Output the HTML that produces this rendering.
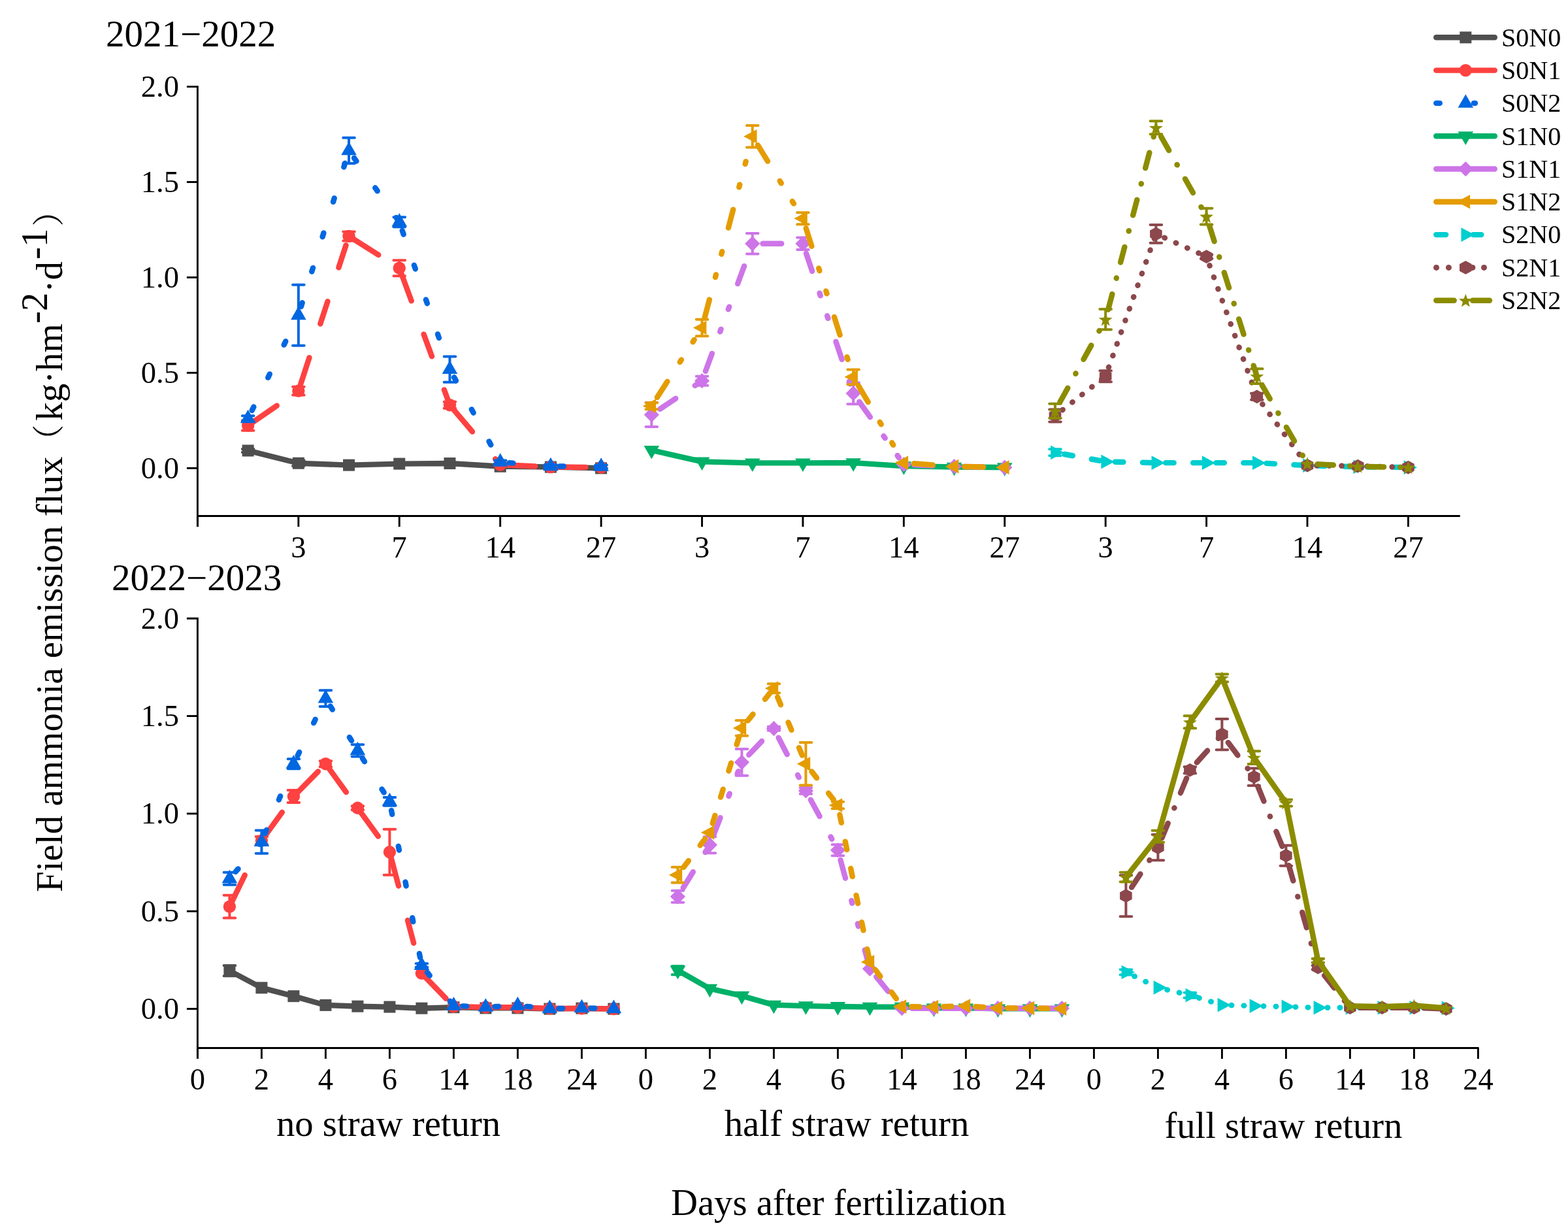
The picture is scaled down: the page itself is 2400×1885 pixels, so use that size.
<!DOCTYPE html>
<html><head><meta charset="utf-8"><title>Field ammonia emission flux</title>
<style>html,body{margin:0;padding:0;background:#fff;width:2400px;height:1885px;overflow:hidden}
svg{display:block}text{font-family:'Liberation Serif','Noto Serif CJK SC',serif;fill:#000}</style></head>
<body><svg width="2400" height="1885" viewBox="0 0 2400 1885">
<rect width="2400" height="1885" fill="#fff"/>
<text x="162" y="70.8" font-size="57">2021−2022</text>
<text x="171" y="902.7" font-size="57">2022−2023</text>
<path d="M285.9 132.6H302.4V806" stroke="#000" stroke-width="2.9" fill="none"/>
<path d="M301.1 789.5H2234.8" stroke="#000" stroke-width="2.9" fill="none"/>
<path d="M285.9 716.3H302.4" stroke="#000" stroke-width="2.9"/>
<path d="M285.9 570.38H302.4" stroke="#000" stroke-width="2.9"/>
<path d="M285.9 424.45H302.4" stroke="#000" stroke-width="2.9"/>
<path d="M285.9 278.52H302.4" stroke="#000" stroke-width="2.9"/>
<text x="273.9" y="731.6" text-anchor="end" font-size="46.5">0.0</text>
<text x="273.9" y="585.67" text-anchor="end" font-size="46.5">0.5</text>
<text x="273.9" y="439.75" text-anchor="end" font-size="46.5">1.0</text>
<text x="273.9" y="293.82" text-anchor="end" font-size="46.5">1.5</text>
<text x="273.9" y="147.9" text-anchor="end" font-size="46.5">2.0</text>
<path d="M302.4 789.5V806" stroke="#000" stroke-width="2.9"/>
<path d="M456.82 789.5V806" stroke="#000" stroke-width="2.9"/>
<text x="456.82" y="852.9" text-anchor="middle" font-size="46.5">3</text>
<path d="M611.24 789.5V806" stroke="#000" stroke-width="2.9"/>
<text x="611.24" y="852.9" text-anchor="middle" font-size="46.5">7</text>
<path d="M765.66 789.5V806" stroke="#000" stroke-width="2.9"/>
<text x="765.66" y="852.9" text-anchor="middle" font-size="46.5">14</text>
<path d="M920.08 789.5V806" stroke="#000" stroke-width="2.9"/>
<text x="920.08" y="852.9" text-anchor="middle" font-size="46.5">27</text>
<path d="M1074.5 789.5V806" stroke="#000" stroke-width="2.9"/>
<text x="1074.5" y="852.9" text-anchor="middle" font-size="46.5">3</text>
<path d="M1228.92 789.5V806" stroke="#000" stroke-width="2.9"/>
<text x="1228.92" y="852.9" text-anchor="middle" font-size="46.5">7</text>
<path d="M1383.34 789.5V806" stroke="#000" stroke-width="2.9"/>
<text x="1383.34" y="852.9" text-anchor="middle" font-size="46.5">14</text>
<path d="M1537.76 789.5V806" stroke="#000" stroke-width="2.9"/>
<text x="1537.76" y="852.9" text-anchor="middle" font-size="46.5">27</text>
<path d="M1692.18 789.5V806" stroke="#000" stroke-width="2.9"/>
<text x="1692.18" y="852.9" text-anchor="middle" font-size="46.5">3</text>
<path d="M1846.6 789.5V806" stroke="#000" stroke-width="2.9"/>
<text x="1846.6" y="852.9" text-anchor="middle" font-size="46.5">7</text>
<path d="M2001.02 789.5V806" stroke="#000" stroke-width="2.9"/>
<text x="2001.02" y="852.9" text-anchor="middle" font-size="46.5">14</text>
<path d="M2155.44 789.5V806" stroke="#000" stroke-width="2.9"/>
<text x="2155.44" y="852.9" text-anchor="middle" font-size="46.5">27</text>
<path d="M285.9 946.2H302.4V1620" stroke="#000" stroke-width="2.9" fill="none"/>
<path d="M301.1 1603.5H2263.6" stroke="#000" stroke-width="2.9" fill="none"/>
<path d="M285.9 1543.6H302.4" stroke="#000" stroke-width="2.9"/>
<path d="M285.9 1394.25H302.4" stroke="#000" stroke-width="2.9"/>
<path d="M285.9 1244.9H302.4" stroke="#000" stroke-width="2.9"/>
<path d="M285.9 1095.55H302.4" stroke="#000" stroke-width="2.9"/>
<text x="273.9" y="1558.9" text-anchor="end" font-size="46.5">0.0</text>
<text x="273.9" y="1409.55" text-anchor="end" font-size="46.5">0.5</text>
<text x="273.9" y="1260.2" text-anchor="end" font-size="46.5">1.0</text>
<text x="273.9" y="1110.85" text-anchor="end" font-size="46.5">1.5</text>
<text x="273.9" y="961.5" text-anchor="end" font-size="46.5">2.0</text>
<path d="M302.4 1603.5V1620" stroke="#000" stroke-width="2.9"/>
<text x="302.4" y="1666.8" text-anchor="middle" font-size="46.5">0</text>
<path d="M400.4 1603.5V1620" stroke="#000" stroke-width="2.9"/>
<text x="400.4" y="1666.8" text-anchor="middle" font-size="46.5">2</text>
<path d="M498.4 1603.5V1620" stroke="#000" stroke-width="2.9"/>
<text x="498.4" y="1666.8" text-anchor="middle" font-size="46.5">4</text>
<path d="M596.4 1603.5V1620" stroke="#000" stroke-width="2.9"/>
<text x="596.4" y="1666.8" text-anchor="middle" font-size="46.5">6</text>
<path d="M694.4 1603.5V1620" stroke="#000" stroke-width="2.9"/>
<text x="694.4" y="1666.8" text-anchor="middle" font-size="46.5">14</text>
<path d="M792.4 1603.5V1620" stroke="#000" stroke-width="2.9"/>
<text x="792.4" y="1666.8" text-anchor="middle" font-size="46.5">18</text>
<path d="M890.4 1603.5V1620" stroke="#000" stroke-width="2.9"/>
<text x="890.4" y="1666.8" text-anchor="middle" font-size="46.5">24</text>
<path d="M988.4 1603.5V1620" stroke="#000" stroke-width="2.9"/>
<text x="988.4" y="1666.8" text-anchor="middle" font-size="46.5">0</text>
<path d="M1086.4 1603.5V1620" stroke="#000" stroke-width="2.9"/>
<text x="1086.4" y="1666.8" text-anchor="middle" font-size="46.5">2</text>
<path d="M1184.4 1603.5V1620" stroke="#000" stroke-width="2.9"/>
<text x="1184.4" y="1666.8" text-anchor="middle" font-size="46.5">4</text>
<path d="M1282.4 1603.5V1620" stroke="#000" stroke-width="2.9"/>
<text x="1282.4" y="1666.8" text-anchor="middle" font-size="46.5">6</text>
<path d="M1380.4 1603.5V1620" stroke="#000" stroke-width="2.9"/>
<text x="1380.4" y="1666.8" text-anchor="middle" font-size="46.5">14</text>
<path d="M1478.4 1603.5V1620" stroke="#000" stroke-width="2.9"/>
<text x="1478.4" y="1666.8" text-anchor="middle" font-size="46.5">18</text>
<path d="M1576.4 1603.5V1620" stroke="#000" stroke-width="2.9"/>
<text x="1576.4" y="1666.8" text-anchor="middle" font-size="46.5">24</text>
<path d="M1674.4 1603.5V1620" stroke="#000" stroke-width="2.9"/>
<text x="1674.4" y="1666.8" text-anchor="middle" font-size="46.5">0</text>
<path d="M1772.4 1603.5V1620" stroke="#000" stroke-width="2.9"/>
<text x="1772.4" y="1666.8" text-anchor="middle" font-size="46.5">2</text>
<path d="M1870.4 1603.5V1620" stroke="#000" stroke-width="2.9"/>
<text x="1870.4" y="1666.8" text-anchor="middle" font-size="46.5">4</text>
<path d="M1968.4 1603.5V1620" stroke="#000" stroke-width="2.9"/>
<text x="1968.4" y="1666.8" text-anchor="middle" font-size="46.5">6</text>
<path d="M2066.4 1603.5V1620" stroke="#000" stroke-width="2.9"/>
<text x="2066.4" y="1666.8" text-anchor="middle" font-size="46.5">14</text>
<path d="M2164.4 1603.5V1620" stroke="#000" stroke-width="2.9"/>
<text x="2164.4" y="1666.8" text-anchor="middle" font-size="46.5">18</text>
<path d="M2262.4 1603.5V1620" stroke="#000" stroke-width="2.9"/>
<text x="2262.4" y="1666.8" text-anchor="middle" font-size="46.5">24</text>
<polyline points="379.61,689.45 456.82,708.71 534.03,711.63 611.24,709.59 688.45,709 765.66,713.67 842.87,714.55 920.08,716.3" fill="none" stroke="#4F4F4F" stroke-width="8.4" stroke-linejoin="round" stroke-linecap="round"/>
<path d="M379.61 686.95V691.95M370.81 686.95h17.6M370.81 691.95h17.6" stroke="#4F4F4F" stroke-width="4" stroke-linecap="round" fill="none"/>
<path d="M456.82 704.31V713.11M448.02 704.31h17.6M448.02 713.11h17.6" stroke="#4F4F4F" stroke-width="4" stroke-linecap="round" fill="none"/>
<rect x="370.61" y="680.45" width="18" height="18" fill="#4F4F4F"/>
<rect x="447.82" y="699.71" width="18" height="18" fill="#4F4F4F"/>
<rect x="525.03" y="702.63" width="18" height="18" fill="#4F4F4F"/>
<rect x="602.24" y="700.59" width="18" height="18" fill="#4F4F4F"/>
<rect x="679.45" y="700" width="18" height="18" fill="#4F4F4F"/>
<rect x="756.66" y="704.67" width="18" height="18" fill="#4F4F4F"/>
<rect x="833.87" y="705.55" width="18" height="18" fill="#4F4F4F"/>
<rect x="911.08" y="707.3" width="18" height="18" fill="#4F4F4F"/>
<line x1="379.61" y1="650.93" x2="456.82" y2="598.1" stroke="#FE4141" stroke-width="8.4" stroke-linecap="round" stroke-dasharray="53.5 54.5 36 54.5 36 54.5 36 54.5 36 54.5" stroke-dashoffset="0"/>
<line x1="456.82" y1="598.1" x2="534.03" y2="361.41" stroke="#FE4141" stroke-width="8.4" stroke-linecap="round" stroke-dasharray="53.5 54.5 36 54.5 36 54.5 36 54.5 36 54.5" stroke-dashoffset="0"/>
<line x1="534.03" y1="361.41" x2="611.24" y2="410.15" stroke="#FE4141" stroke-width="8.4" stroke-linecap="round" stroke-dasharray="53.5 54.5 36 54.5 36 54.5 36 54.5 36 54.5" stroke-dashoffset="0"/>
<line x1="611.24" y1="410.15" x2="688.45" y2="619.7" stroke="#FE4141" stroke-width="8.4" stroke-linecap="round" stroke-dasharray="53.5 54.5 36 54.5 36 54.5 36 54.5 36 54.5" stroke-dashoffset="0"/>
<line x1="688.45" y1="619.7" x2="765.66" y2="711.05" stroke="#FE4141" stroke-width="8.4" stroke-linecap="round" stroke-dasharray="53.5 54.5 36 54.5 36 54.5 36 54.5 36 54.5" stroke-dashoffset="0"/>
<line x1="765.66" y1="711.05" x2="842.87" y2="714.55" stroke="#FE4141" stroke-width="8.4" stroke-linecap="round" stroke-dasharray="53.5 54.5 36 54.5 36 54.5 36 54.5 36 54.5" stroke-dashoffset="0"/>
<line x1="842.87" y1="714.55" x2="920.08" y2="715.13" stroke="#FE4141" stroke-width="8.4" stroke-linecap="round" stroke-dasharray="53.5 54.5 36 54.5 36 54.5 36 54.5 36 54.5" stroke-dashoffset="0"/>
<path d="M379.61 643.23V658.63M370.81 643.23h17.6M370.81 658.63h17.6" stroke="#FE4141" stroke-width="4" stroke-linecap="round" fill="none"/>
<path d="M456.82 591.8V604.4M448.02 591.8h17.6M448.02 604.4h17.6" stroke="#FE4141" stroke-width="4" stroke-linecap="round" fill="none"/>
<path d="M534.03 354.41V368.41M525.23 354.41h17.6M525.23 368.41h17.6" stroke="#FE4141" stroke-width="4" stroke-linecap="round" fill="none"/>
<path d="M611.24 398.15V422.15M602.44 398.15h17.6M602.44 422.15h17.6" stroke="#FE4141" stroke-width="4" stroke-linecap="round" fill="none"/>
<path d="M688.45 614.7V624.7M679.65 614.7h17.6M679.65 624.7h17.6" stroke="#FE4141" stroke-width="4" stroke-linecap="round" fill="none"/>
<path d="M765.66 709.55V712.55M756.86 709.55h17.6M756.86 712.55h17.6" stroke="#FE4141" stroke-width="4" stroke-linecap="round" fill="none"/>
<circle cx="379.61" cy="650.93" r="9.7" fill="#FE4141"/>
<circle cx="456.82" cy="598.1" r="9.7" fill="#FE4141"/>
<circle cx="534.03" cy="361.41" r="9.7" fill="#FE4141"/>
<circle cx="611.24" cy="410.15" r="9.7" fill="#FE4141"/>
<circle cx="688.45" cy="619.7" r="9.7" fill="#FE4141"/>
<circle cx="765.66" cy="711.05" r="9.7" fill="#FE4141"/>
<circle cx="842.87" cy="714.55" r="9.7" fill="#FE4141"/>
<circle cx="920.08" cy="715.13" r="9.7" fill="#FE4141"/>
<line x1="379.61" y1="640.42" x2="456.82" y2="482.24" stroke="#0067E1" stroke-width="8.4" stroke-linecap="round" stroke-dasharray="6 49.8" stroke-dashoffset="41.9"/>
<line x1="456.82" y1="482.24" x2="534.03" y2="230.37" stroke="#0067E1" stroke-width="8.4" stroke-linecap="round" stroke-dasharray="6 49.8" stroke-dashoffset="41.9"/>
<line x1="534.03" y1="230.37" x2="611.24" y2="339.81" stroke="#0067E1" stroke-width="8.4" stroke-linecap="round" stroke-dasharray="6 49.8" stroke-dashoffset="41.9"/>
<line x1="611.24" y1="339.81" x2="688.45" y2="565.12" stroke="#0067E1" stroke-width="8.4" stroke-linecap="round" stroke-dasharray="6 49.8" stroke-dashoffset="41.9"/>
<line x1="688.45" y1="565.12" x2="765.66" y2="706.96" stroke="#0067E1" stroke-width="8.4" stroke-linecap="round" stroke-dasharray="6 49.8" stroke-dashoffset="41.9"/>
<line x1="765.66" y1="706.96" x2="842.87" y2="713.38" stroke="#0067E1" stroke-width="8.4" stroke-linecap="round" stroke-dasharray="6 49.8" stroke-dashoffset="41.9"/>
<line x1="842.87" y1="713.38" x2="920.08" y2="713.97" stroke="#0067E1" stroke-width="8.4" stroke-linecap="round" stroke-dasharray="6 49.8" stroke-dashoffset="41.9"/>
<path d="M379.61 636.22V644.62M370.81 636.22h17.6M370.81 644.62h17.6" stroke="#0067E1" stroke-width="4" stroke-linecap="round" fill="none"/>
<path d="M456.82 435.84V528.64M448.02 435.84h17.6M448.02 528.64h17.6" stroke="#0067E1" stroke-width="4" stroke-linecap="round" fill="none"/>
<path d="M534.03 210.67V250.07M525.23 210.67h17.6M525.23 250.07h17.6" stroke="#0067E1" stroke-width="4" stroke-linecap="round" fill="none"/>
<path d="M611.24 332.31V347.31M602.44 332.31h17.6M602.44 347.31h17.6" stroke="#0067E1" stroke-width="4" stroke-linecap="round" fill="none"/>
<path d="M688.45 545.42V584.82M679.65 545.42h17.6M679.65 584.82h17.6" stroke="#0067E1" stroke-width="4" stroke-linecap="round" fill="none"/>
<path d="M765.66 704.46V709.46M756.86 704.46h17.6M756.86 709.46h17.6" stroke="#0067E1" stroke-width="4" stroke-linecap="round" fill="none"/>
<path d="M842.87 710.88V715.88M834.07 710.88h17.6M834.07 715.88h17.6" stroke="#0067E1" stroke-width="4" stroke-linecap="round" fill="none"/>
<path d="M920.08 711.47V716.47M911.28 711.47h17.6M911.28 716.47h17.6" stroke="#0067E1" stroke-width="4" stroke-linecap="round" fill="none"/>
<polygon points="379.61,626.72 391.41,647.32 367.81,647.32" fill="#0067E1"/>
<polygon points="456.82,468.54 468.62,489.14 445.02,489.14" fill="#0067E1"/>
<polygon points="534.03,216.67 545.83,237.27 522.23,237.27" fill="#0067E1"/>
<polygon points="611.24,326.11 623.04,346.71 599.44,346.71" fill="#0067E1"/>
<polygon points="688.45,551.42 700.25,572.02 676.65,572.02" fill="#0067E1"/>
<polygon points="765.66,693.26 777.46,713.86 753.86,713.86" fill="#0067E1"/>
<polygon points="842.87,699.68 854.67,720.28 831.07,720.28" fill="#0067E1"/>
<polygon points="920.08,700.27 931.88,720.87 908.28,720.87" fill="#0067E1"/>
<polyline points="997.29,688.87 1074.5,706.38 1151.71,708.42 1228.92,708.42 1306.13,708.13 1383.34,713.09 1460.55,714.55 1537.76,715.13" fill="none" stroke="#00B068" stroke-width="8.4" stroke-linejoin="round" stroke-linecap="round"/>
<polygon points="997.29,702.57 1009.09,681.97 985.49,681.97" fill="#00B068"/>
<polygon points="1074.5,720.08 1086.3,699.48 1062.7,699.48" fill="#00B068"/>
<polygon points="1151.71,722.12 1163.51,701.52 1139.91,701.52" fill="#00B068"/>
<polygon points="1228.92,722.12 1240.72,701.52 1217.12,701.52" fill="#00B068"/>
<polygon points="1306.13,721.83 1317.93,701.23 1294.33,701.23" fill="#00B068"/>
<polygon points="1383.34,726.79 1395.14,706.19 1371.54,706.19" fill="#00B068"/>
<polygon points="1460.55,728.25 1472.35,707.65 1448.75,707.65" fill="#00B068"/>
<polygon points="1537.76,728.83 1549.56,708.23 1525.96,708.23" fill="#00B068"/>
<line x1="997.29" y1="634.58" x2="1074.5" y2="582.63" stroke="#CD75E8" stroke-width="8.4" stroke-linecap="round" stroke-dasharray="28.8 35.5 4 32.6 4 37.6" stroke-dashoffset="126.8"/>
<line x1="1074.5" y1="582.63" x2="1151.71" y2="372.79" stroke="#CD75E8" stroke-width="8.4" stroke-linecap="round" stroke-dasharray="28.8 35.5 4 32.6 4 37.6" stroke-dashoffset="126.8"/>
<line x1="1151.71" y1="372.79" x2="1228.92" y2="372.79" stroke="#CD75E8" stroke-width="8.4" stroke-linecap="round" stroke-dasharray="28.8 35.5 4 32.6 4 37.6" stroke-dashoffset="126.8"/>
<line x1="1228.92" y1="372.79" x2="1306.13" y2="601.89" stroke="#CD75E8" stroke-width="8.4" stroke-linecap="round" stroke-dasharray="28.8 35.5 4 32.6 4 37.6" stroke-dashoffset="126.8"/>
<line x1="1306.13" y1="601.89" x2="1383.34" y2="710.75" stroke="#CD75E8" stroke-width="8.4" stroke-linecap="round" stroke-dasharray="28.8 35.5 4 32.6 4 37.6" stroke-dashoffset="126.8"/>
<line x1="1383.34" y1="710.75" x2="1460.55" y2="713.67" stroke="#CD75E8" stroke-width="8.4" stroke-linecap="round" stroke-dasharray="28.8 35.5 4 32.6 4 37.6" stroke-dashoffset="126.8"/>
<line x1="1460.55" y1="713.67" x2="1537.76" y2="715.13" stroke="#CD75E8" stroke-width="8.4" stroke-linecap="round" stroke-dasharray="28.8 35.5 4 32.6 4 37.6" stroke-dashoffset="126.8"/>
<path d="M997.29 616.08V653.08M988.49 616.08h17.6M988.49 653.08h17.6" stroke="#CD75E8" stroke-width="4" stroke-linecap="round" fill="none"/>
<path d="M1074.5 575.63V589.63M1065.7 575.63h17.6M1065.7 589.63h17.6" stroke="#CD75E8" stroke-width="4" stroke-linecap="round" fill="none"/>
<path d="M1151.71 357.09V388.49M1142.91 357.09h17.6M1142.91 388.49h17.6" stroke="#CD75E8" stroke-width="4" stroke-linecap="round" fill="none"/>
<path d="M1228.92 363.59V381.99M1220.12 363.59h17.6M1220.12 381.99h17.6" stroke="#CD75E8" stroke-width="4" stroke-linecap="round" fill="none"/>
<path d="M1306.13 585.49V618.29M1297.33 585.49h17.6M1297.33 618.29h17.6" stroke="#CD75E8" stroke-width="4" stroke-linecap="round" fill="none"/>
<polygon points="997.29,622.98 1008.89,634.58 997.29,646.18 985.69,634.58" fill="#CD75E8"/>
<polygon points="1074.5,571.03 1086.1,582.63 1074.5,594.23 1062.9,582.63" fill="#CD75E8"/>
<polygon points="1151.71,361.19 1163.31,372.79 1151.71,384.39 1140.11,372.79" fill="#CD75E8"/>
<polygon points="1228.92,361.19 1240.52,372.79 1228.92,384.39 1217.32,372.79" fill="#CD75E8"/>
<polygon points="1306.13,590.29 1317.73,601.89 1306.13,613.49 1294.53,601.89" fill="#CD75E8"/>
<polygon points="1383.34,699.15 1394.94,710.75 1383.34,722.35 1371.74,710.75" fill="#CD75E8"/>
<polygon points="1460.55,702.07 1472.15,713.67 1460.55,725.27 1448.95,713.67" fill="#CD75E8"/>
<polygon points="1537.76,703.53 1549.36,715.13 1537.76,726.73 1526.16,715.13" fill="#CD75E8"/>
<line x1="997.29" y1="621.16" x2="1074.5" y2="501.5" stroke="#E49C00" stroke-width="8.4" stroke-linecap="round" stroke-dasharray="28.8 35.5 4 32.6 4 37.6" stroke-dashoffset="126.8"/>
<line x1="1074.5" y1="501.5" x2="1151.71" y2="208.77" stroke="#E49C00" stroke-width="8.4" stroke-linecap="round" stroke-dasharray="28.8 35.5 4 32.6 4 37.6" stroke-dashoffset="126.8"/>
<line x1="1151.71" y1="208.77" x2="1228.92" y2="334.27" stroke="#E49C00" stroke-width="8.4" stroke-linecap="round" stroke-dasharray="28.8 35.5 4 32.6 4 37.6" stroke-dashoffset="126.8"/>
<line x1="1228.92" y1="334.27" x2="1306.13" y2="576.8" stroke="#E49C00" stroke-width="8.4" stroke-linecap="round" stroke-dasharray="28.8 35.5 4 32.6 4 37.6" stroke-dashoffset="126.8"/>
<line x1="1306.13" y1="576.8" x2="1383.34" y2="708.13" stroke="#E49C00" stroke-width="8.4" stroke-linecap="round" stroke-dasharray="28.8 35.5 4 32.6 4 37.6" stroke-dashoffset="126.8"/>
<line x1="1383.34" y1="708.13" x2="1460.55" y2="713.67" stroke="#E49C00" stroke-width="8.4" stroke-linecap="round" stroke-dasharray="28.8 35.5 4 32.6 4 37.6" stroke-dashoffset="126.8"/>
<line x1="1460.55" y1="713.67" x2="1537.76" y2="715.13" stroke="#E49C00" stroke-width="8.4" stroke-linecap="round" stroke-dasharray="28.8 35.5 4 32.6 4 37.6" stroke-dashoffset="126.8"/>
<path d="M997.29 616.16V626.16M988.49 616.16h17.6M988.49 626.16h17.6" stroke="#E49C00" stroke-width="4" stroke-linecap="round" fill="none"/>
<path d="M1074.5 488.7V514.3M1065.7 488.7h17.6M1065.7 514.3h17.6" stroke="#E49C00" stroke-width="4" stroke-linecap="round" fill="none"/>
<path d="M1151.71 191.97V225.57M1142.91 191.97h17.6M1142.91 225.57h17.6" stroke="#E49C00" stroke-width="4" stroke-linecap="round" fill="none"/>
<path d="M1228.92 325.17V343.37M1220.12 325.17h17.6M1220.12 343.37h17.6" stroke="#E49C00" stroke-width="4" stroke-linecap="round" fill="none"/>
<path d="M1306.13 565.4V588.2M1297.33 565.4h17.6M1297.33 588.2h17.6" stroke="#E49C00" stroke-width="4" stroke-linecap="round" fill="none"/>
<polygon points="983.69,621.16 1004.09,610.36 1004.09,631.96" fill="#E49C00"/>
<polygon points="1060.9,501.5 1081.3,490.7 1081.3,512.3" fill="#E49C00"/>
<polygon points="1138.11,208.77 1158.51,197.97 1158.51,219.57" fill="#E49C00"/>
<polygon points="1215.32,334.27 1235.72,323.47 1235.72,345.07" fill="#E49C00"/>
<polygon points="1292.53,576.8 1312.93,566 1312.93,587.6" fill="#E49C00"/>
<polygon points="1369.74,708.13 1390.14,697.33 1390.14,718.93" fill="#E49C00"/>
<polygon points="1446.95,713.67 1467.35,702.87 1467.35,724.47" fill="#E49C00"/>
<polygon points="1524.16,715.13 1544.56,704.33 1544.56,725.93" fill="#E49C00"/>
<line x1="1614.97" y1="692.37" x2="1692.18" y2="706.38" stroke="#00CECF" stroke-width="8.4" stroke-linecap="round" stroke-dasharray="12.6 29.4" stroke-dashoffset="27.3"/>
<line x1="1692.18" y1="706.38" x2="1769.39" y2="708.13" stroke="#00CECF" stroke-width="8.4" stroke-linecap="round" stroke-dasharray="12.6 29.4" stroke-dashoffset="27.3"/>
<line x1="1769.39" y1="708.13" x2="1846.6" y2="708.13" stroke="#00CECF" stroke-width="8.4" stroke-linecap="round" stroke-dasharray="12.6 29.4" stroke-dashoffset="27.3"/>
<line x1="1846.6" y1="708.13" x2="1923.81" y2="708.13" stroke="#00CECF" stroke-width="8.4" stroke-linecap="round" stroke-dasharray="12.6 29.4" stroke-dashoffset="27.3"/>
<line x1="1923.81" y1="708.13" x2="2001.02" y2="712.21" stroke="#00CECF" stroke-width="8.4" stroke-linecap="round" stroke-dasharray="12.6 29.4" stroke-dashoffset="27.3"/>
<line x1="2001.02" y1="712.21" x2="2078.23" y2="714.26" stroke="#00CECF" stroke-width="8.4" stroke-linecap="round" stroke-dasharray="12.6 29.4" stroke-dashoffset="27.3"/>
<line x1="2078.23" y1="714.26" x2="2155.44" y2="715.13" stroke="#00CECF" stroke-width="8.4" stroke-linecap="round" stroke-dasharray="12.6 29.4" stroke-dashoffset="27.3"/>
<path d="M1614.97 687.37V697.37M1606.17 687.37h17.6M1606.17 697.37h17.6" stroke="#00CECF" stroke-width="4" stroke-linecap="round" fill="none"/>
<polygon points="1628.57,692.37 1608.17,681.57 1608.17,703.17" fill="#00CECF"/>
<polygon points="1705.78,706.38 1685.38,695.58 1685.38,717.18" fill="#00CECF"/>
<polygon points="1782.99,708.13 1762.59,697.33 1762.59,718.93" fill="#00CECF"/>
<polygon points="1860.2,708.13 1839.8,697.33 1839.8,718.93" fill="#00CECF"/>
<polygon points="1937.41,708.13 1917.01,697.33 1917.01,718.93" fill="#00CECF"/>
<polygon points="2014.62,712.21 1994.22,701.41 1994.22,723.01" fill="#00CECF"/>
<polygon points="2091.83,714.26 2071.43,703.46 2071.43,725.06" fill="#00CECF"/>
<polygon points="2169.04,715.13 2148.64,704.33 2148.64,725.93" fill="#00CECF"/>
<line x1="1614.97" y1="636.04" x2="1692.18" y2="575.63" stroke="#8C484C" stroke-width="8.4" stroke-linecap="round" stroke-dasharray="0.6 18.4" stroke-dashoffset="4.7"/>
<line x1="1692.18" y1="575.63" x2="1769.39" y2="357.91" stroke="#8C484C" stroke-width="8.4" stroke-linecap="round" stroke-dasharray="0.6 18.4" stroke-dashoffset="4.7"/>
<line x1="1769.39" y1="357.91" x2="1846.6" y2="392.64" stroke="#8C484C" stroke-width="8.4" stroke-linecap="round" stroke-dasharray="0.6 18.4" stroke-dashoffset="4.7"/>
<line x1="1846.6" y1="392.64" x2="1923.81" y2="606.86" stroke="#8C484C" stroke-width="8.4" stroke-linecap="round" stroke-dasharray="0.6 18.4" stroke-dashoffset="4.7"/>
<line x1="1923.81" y1="606.86" x2="2001.02" y2="712.21" stroke="#8C484C" stroke-width="8.4" stroke-linecap="round" stroke-dasharray="0.6 18.4" stroke-dashoffset="4.7"/>
<line x1="2001.02" y1="712.21" x2="2078.23" y2="713.09" stroke="#8C484C" stroke-width="8.4" stroke-linecap="round" stroke-dasharray="0.6 18.4" stroke-dashoffset="4.7"/>
<line x1="2078.23" y1="713.09" x2="2155.44" y2="715.13" stroke="#8C484C" stroke-width="8.4" stroke-linecap="round" stroke-dasharray="0.6 18.4" stroke-dashoffset="4.7"/>
<path d="M1614.97 626.54V645.54M1606.17 626.54h17.6M1606.17 645.54h17.6" stroke="#8C484C" stroke-width="4" stroke-linecap="round" fill="none"/>
<path d="M1692.18 567.13V584.13M1683.38 567.13h17.6M1683.38 584.13h17.6" stroke="#8C484C" stroke-width="4" stroke-linecap="round" fill="none"/>
<path d="M1769.39 344.11V371.71M1760.59 344.11h17.6M1760.59 371.71h17.6" stroke="#8C484C" stroke-width="4" stroke-linecap="round" fill="none"/>
<path d="M1846.6 389.64V395.64M1837.8 389.64h17.6M1837.8 395.64h17.6" stroke="#8C484C" stroke-width="4" stroke-linecap="round" fill="none"/>
<path d="M1923.81 601.86V611.86M1915.01 601.86h17.6M1915.01 611.86h17.6" stroke="#8C484C" stroke-width="4" stroke-linecap="round" fill="none"/>
<polygon points="1614.97,625.74 1624.27,630.74 1624.27,641.34 1614.97,646.34 1605.67,641.34 1605.67,630.74" fill="#8C484C"/>
<polygon points="1692.18,565.33 1701.48,570.33 1701.48,580.93 1692.18,585.93 1682.88,580.93 1682.88,570.33" fill="#8C484C"/>
<polygon points="1769.39,347.61 1778.69,352.61 1778.69,363.21 1769.39,368.21 1760.09,363.21 1760.09,352.61" fill="#8C484C"/>
<polygon points="1846.6,382.34 1855.9,387.34 1855.9,397.94 1846.6,402.94 1837.3,397.94 1837.3,387.34" fill="#8C484C"/>
<polygon points="1923.81,596.56 1933.11,601.56 1933.11,612.16 1923.81,617.16 1914.51,612.16 1914.51,601.56" fill="#8C484C"/>
<polygon points="2001.02,701.91 2010.32,706.91 2010.32,717.51 2001.02,722.51 1991.72,717.51 1991.72,706.91" fill="#8C484C"/>
<polygon points="2078.23,702.79 2087.53,707.79 2087.53,718.39 2078.23,723.39 2068.93,718.39 2068.93,707.79" fill="#8C484C"/>
<polygon points="2155.44,704.83 2164.74,709.83 2164.74,720.43 2155.44,725.43 2146.14,720.43 2146.14,709.83" fill="#8C484C"/>
<line x1="1614.97" y1="628.74" x2="1692.18" y2="488.66" stroke="#8C8C00" stroke-width="8.4" stroke-linecap="round" stroke-dasharray="24.4 25.05 0.5 24.65" stroke-dashoffset="59"/>
<line x1="1692.18" y1="488.66" x2="1769.39" y2="195.35" stroke="#8C8C00" stroke-width="8.4" stroke-linecap="round" stroke-dasharray="24.4 25.05 0.5 24.65" stroke-dashoffset="59"/>
<line x1="1769.39" y1="195.35" x2="1846.6" y2="331.06" stroke="#8C8C00" stroke-width="8.4" stroke-linecap="round" stroke-dasharray="24.4 25.05 0.5 24.65" stroke-dashoffset="59"/>
<line x1="1846.6" y1="331.06" x2="1923.81" y2="575.63" stroke="#8C8C00" stroke-width="8.4" stroke-linecap="round" stroke-dasharray="24.4 25.05 0.5 24.65" stroke-dashoffset="59"/>
<line x1="1923.81" y1="575.63" x2="2001.02" y2="709.3" stroke="#8C8C00" stroke-width="8.4" stroke-linecap="round" stroke-dasharray="24.4 25.05 0.5 24.65" stroke-dashoffset="59"/>
<line x1="2001.02" y1="709.3" x2="2078.23" y2="713.67" stroke="#8C8C00" stroke-width="8.4" stroke-linecap="round" stroke-dasharray="24.4 25.05 0.5 24.65" stroke-dashoffset="59"/>
<line x1="2078.23" y1="713.67" x2="2155.44" y2="715.13" stroke="#8C8C00" stroke-width="8.4" stroke-linecap="round" stroke-dasharray="24.4 25.05 0.5 24.65" stroke-dashoffset="59"/>
<path d="M1614.97 617.74V639.74M1606.17 617.74h17.6M1606.17 639.74h17.6" stroke="#8C8C00" stroke-width="4" stroke-linecap="round" fill="none"/>
<path d="M1692.18 473.06V504.26M1683.38 473.06h17.6M1683.38 504.26h17.6" stroke="#8C8C00" stroke-width="4" stroke-linecap="round" fill="none"/>
<path d="M1769.39 185.35V205.35M1760.59 185.35h17.6M1760.59 205.35h17.6" stroke="#8C8C00" stroke-width="4" stroke-linecap="round" fill="none"/>
<path d="M1846.6 318.66V343.46M1837.8 318.66h17.6M1837.8 343.46h17.6" stroke="#8C8C00" stroke-width="4" stroke-linecap="round" fill="none"/>
<path d="M1923.81 564.23V587.03M1915.01 564.23h17.6M1915.01 587.03h17.6" stroke="#8C8C00" stroke-width="4" stroke-linecap="round" fill="none"/>
<polygon points="1614.97,618.74 1617.67,626.02 1625.43,626.35 1619.34,631.17 1621.44,638.64 1614.97,634.34 1608.5,638.64 1610.6,631.17 1604.51,626.35 1612.27,626.02" fill="#8C8C00"/>
<polygon points="1692.18,478.66 1694.88,485.94 1702.64,486.26 1696.55,491.08 1698.65,498.56 1692.18,494.26 1685.71,498.56 1687.81,491.08 1681.72,486.26 1689.48,485.94" fill="#8C8C00"/>
<polygon points="1769.39,185.35 1772.09,192.63 1779.85,192.95 1773.76,197.77 1775.86,205.25 1769.39,200.95 1762.92,205.25 1765.02,197.77 1758.93,192.95 1766.69,192.63" fill="#8C8C00"/>
<polygon points="1846.6,321.06 1849.3,328.34 1857.06,328.66 1850.97,333.48 1853.07,340.96 1846.6,336.66 1840.13,340.96 1842.23,333.48 1836.14,328.66 1843.9,328.34" fill="#8C8C00"/>
<polygon points="1923.81,565.63 1926.51,572.91 1934.27,573.23 1928.18,578.05 1930.28,585.53 1923.81,581.23 1917.34,585.53 1919.44,578.05 1913.35,573.23 1921.11,572.91" fill="#8C8C00"/>
<polygon points="2001.02,699.3 2003.72,706.57 2011.48,706.9 2005.39,711.72 2007.49,719.19 2001.02,714.9 1994.55,719.19 1996.65,711.72 1990.56,706.9 1998.32,706.57" fill="#8C8C00"/>
<polygon points="2078.23,703.67 2080.93,710.95 2088.69,711.27 2082.6,716.09 2084.7,723.57 2078.23,719.27 2071.76,723.57 2073.86,716.09 2067.77,711.27 2075.53,710.95" fill="#8C8C00"/>
<polygon points="2155.44,705.13 2158.14,712.41 2165.9,712.73 2159.81,717.55 2161.91,725.03 2155.44,720.73 2148.97,725.03 2151.07,717.55 2144.98,712.73 2152.74,712.41" fill="#8C8C00"/>
<polyline points="351.4,1485.35 400.4,1511.34 449.4,1524.18 498.4,1537.92 547.4,1539.72 596.4,1540.61 645.4,1542.7 694.4,1541.21 743.4,1542.41 792.4,1542.41 841.4,1543.6 890.4,1542.7 939.4,1543.6" fill="none" stroke="#4F4F4F" stroke-width="8.4" stroke-linejoin="round" stroke-linecap="round"/>
<path d="M351.4 1477.35V1493.35M342.6 1477.35h17.6M342.6 1493.35h17.6" stroke="#4F4F4F" stroke-width="4" stroke-linecap="round" fill="none"/>
<rect x="342.4" y="1476.35" width="18" height="18" fill="#4F4F4F"/>
<rect x="391.4" y="1502.34" width="18" height="18" fill="#4F4F4F"/>
<rect x="440.4" y="1515.18" width="18" height="18" fill="#4F4F4F"/>
<rect x="489.4" y="1528.92" width="18" height="18" fill="#4F4F4F"/>
<rect x="538.4" y="1530.72" width="18" height="18" fill="#4F4F4F"/>
<rect x="587.4" y="1531.61" width="18" height="18" fill="#4F4F4F"/>
<rect x="636.4" y="1533.7" width="18" height="18" fill="#4F4F4F"/>
<rect x="685.4" y="1532.21" width="18" height="18" fill="#4F4F4F"/>
<rect x="734.4" y="1533.41" width="18" height="18" fill="#4F4F4F"/>
<rect x="783.4" y="1533.41" width="18" height="18" fill="#4F4F4F"/>
<rect x="832.4" y="1534.6" width="18" height="18" fill="#4F4F4F"/>
<rect x="881.4" y="1533.7" width="18" height="18" fill="#4F4F4F"/>
<rect x="930.4" y="1534.6" width="18" height="18" fill="#4F4F4F"/>
<line x1="351.4" y1="1387.08" x2="400.4" y2="1286.12" stroke="#FE4141" stroke-width="8.4" stroke-linecap="round" stroke-dasharray="53.5 54.5 36 54.5 36 54.5 36 54.5 36 54.5" stroke-dashoffset="0"/>
<line x1="400.4" y1="1286.12" x2="449.4" y2="1218.61" stroke="#FE4141" stroke-width="8.4" stroke-linecap="round" stroke-dasharray="53.5 54.5 36 54.5 36 54.5 36 54.5 36 54.5" stroke-dashoffset="0"/>
<line x1="449.4" y1="1218.61" x2="498.4" y2="1168.73" stroke="#FE4141" stroke-width="8.4" stroke-linecap="round" stroke-dasharray="53.5 54.5 36 54.5 36 54.5 36 54.5 36 54.5" stroke-dashoffset="0"/>
<line x1="498.4" y1="1168.73" x2="547.4" y2="1236.24" stroke="#FE4141" stroke-width="8.4" stroke-linecap="round" stroke-dasharray="53.5 54.5 36 54.5 36 54.5 36 54.5 36 54.5" stroke-dashoffset="0"/>
<line x1="547.4" y1="1236.24" x2="596.4" y2="1303.74" stroke="#FE4141" stroke-width="8.4" stroke-linecap="round" stroke-dasharray="53.5 54.5 36 54.5 36 54.5 36 54.5 36 54.5" stroke-dashoffset="0"/>
<line x1="596.4" y1="1303.74" x2="645.4" y2="1489.24" stroke="#FE4141" stroke-width="8.4" stroke-linecap="round" stroke-dasharray="53.5 54.5 36 54.5 36 54.5 36 54.5 36 54.5" stroke-dashoffset="0"/>
<line x1="645.4" y1="1489.24" x2="694.4" y2="1540.02" stroke="#FE4141" stroke-width="8.4" stroke-linecap="round" stroke-dasharray="53.5 54.5 36 54.5 36 54.5 36 54.5 36 54.5" stroke-dashoffset="0"/>
<line x1="694.4" y1="1540.02" x2="743.4" y2="1541.21" stroke="#FE4141" stroke-width="8.4" stroke-linecap="round" stroke-dasharray="53.5 54.5 36 54.5 36 54.5 36 54.5 36 54.5" stroke-dashoffset="0"/>
<line x1="743.4" y1="1541.21" x2="792.4" y2="1541.21" stroke="#FE4141" stroke-width="8.4" stroke-linecap="round" stroke-dasharray="53.5 54.5 36 54.5 36 54.5 36 54.5 36 54.5" stroke-dashoffset="0"/>
<line x1="792.4" y1="1541.21" x2="841.4" y2="1543" stroke="#FE4141" stroke-width="8.4" stroke-linecap="round" stroke-dasharray="53.5 54.5 36 54.5 36 54.5 36 54.5 36 54.5" stroke-dashoffset="0"/>
<line x1="841.4" y1="1543" x2="890.4" y2="1543" stroke="#FE4141" stroke-width="8.4" stroke-linecap="round" stroke-dasharray="53.5 54.5 36 54.5 36 54.5 36 54.5 36 54.5" stroke-dashoffset="0"/>
<line x1="890.4" y1="1543" x2="939.4" y2="1543.6" stroke="#FE4141" stroke-width="8.4" stroke-linecap="round" stroke-dasharray="53.5 54.5 36 54.5 36 54.5 36 54.5 36 54.5" stroke-dashoffset="0"/>
<path d="M351.4 1369.68V1404.48M342.6 1369.68h17.6M342.6 1404.48h17.6" stroke="#FE4141" stroke-width="4" stroke-linecap="round" fill="none"/>
<path d="M400.4 1280.12V1292.12M391.6 1280.12h17.6M391.6 1292.12h17.6" stroke="#FE4141" stroke-width="4" stroke-linecap="round" fill="none"/>
<path d="M449.4 1209.11V1228.11M440.6 1209.11h17.6M440.6 1228.11h17.6" stroke="#FE4141" stroke-width="4" stroke-linecap="round" fill="none"/>
<path d="M498.4 1164.33V1173.13M489.6 1164.33h17.6M489.6 1173.13h17.6" stroke="#FE4141" stroke-width="4" stroke-linecap="round" fill="none"/>
<path d="M547.4 1233.24V1239.24M538.6 1233.24h17.6M538.6 1239.24h17.6" stroke="#FE4141" stroke-width="4" stroke-linecap="round" fill="none"/>
<path d="M596.4 1268.74V1338.74M587.6 1268.74h17.6M587.6 1338.74h17.6" stroke="#FE4141" stroke-width="4" stroke-linecap="round" fill="none"/>
<circle cx="351.4" cy="1387.08" r="9.7" fill="#FE4141"/>
<circle cx="400.4" cy="1286.12" r="9.7" fill="#FE4141"/>
<circle cx="449.4" cy="1218.61" r="9.7" fill="#FE4141"/>
<circle cx="498.4" cy="1168.73" r="9.7" fill="#FE4141"/>
<circle cx="547.4" cy="1236.24" r="9.7" fill="#FE4141"/>
<circle cx="596.4" cy="1303.74" r="9.7" fill="#FE4141"/>
<circle cx="645.4" cy="1489.24" r="9.7" fill="#FE4141"/>
<circle cx="694.4" cy="1540.02" r="9.7" fill="#FE4141"/>
<circle cx="743.4" cy="1541.21" r="9.7" fill="#FE4141"/>
<circle cx="792.4" cy="1541.21" r="9.7" fill="#FE4141"/>
<circle cx="841.4" cy="1543" r="9.7" fill="#FE4141"/>
<circle cx="890.4" cy="1543" r="9.7" fill="#FE4141"/>
<circle cx="939.4" cy="1543.6" r="9.7" fill="#FE4141"/>
<line x1="351.4" y1="1344.37" x2="400.4" y2="1288.21" stroke="#0067E1" stroke-width="8.4" stroke-linecap="round" stroke-dasharray="6 49.8" stroke-dashoffset="41.9"/>
<line x1="400.4" y1="1288.21" x2="449.4" y2="1168.73" stroke="#0067E1" stroke-width="8.4" stroke-linecap="round" stroke-dasharray="6 49.8" stroke-dashoffset="41.9"/>
<line x1="449.4" y1="1168.73" x2="498.4" y2="1068.67" stroke="#0067E1" stroke-width="8.4" stroke-linecap="round" stroke-dasharray="6 49.8" stroke-dashoffset="41.9"/>
<line x1="498.4" y1="1068.67" x2="547.4" y2="1148.42" stroke="#0067E1" stroke-width="8.4" stroke-linecap="round" stroke-dasharray="6 49.8" stroke-dashoffset="41.9"/>
<line x1="547.4" y1="1148.42" x2="596.4" y2="1226.38" stroke="#0067E1" stroke-width="8.4" stroke-linecap="round" stroke-dasharray="6 49.8" stroke-dashoffset="41.9"/>
<line x1="596.4" y1="1226.38" x2="645.4" y2="1476.99" stroke="#0067E1" stroke-width="8.4" stroke-linecap="round" stroke-dasharray="6 49.8" stroke-dashoffset="41.9"/>
<line x1="645.4" y1="1476.99" x2="694.4" y2="1538.82" stroke="#0067E1" stroke-width="8.4" stroke-linecap="round" stroke-dasharray="6 49.8" stroke-dashoffset="41.9"/>
<line x1="694.4" y1="1538.82" x2="743.4" y2="1540.91" stroke="#0067E1" stroke-width="8.4" stroke-linecap="round" stroke-dasharray="6 49.8" stroke-dashoffset="41.9"/>
<line x1="743.4" y1="1540.91" x2="792.4" y2="1538.52" stroke="#0067E1" stroke-width="8.4" stroke-linecap="round" stroke-dasharray="6 49.8" stroke-dashoffset="41.9"/>
<line x1="792.4" y1="1538.52" x2="841.4" y2="1543.3" stroke="#0067E1" stroke-width="8.4" stroke-linecap="round" stroke-dasharray="6 49.8" stroke-dashoffset="41.9"/>
<line x1="841.4" y1="1543.3" x2="890.4" y2="1542.41" stroke="#0067E1" stroke-width="8.4" stroke-linecap="round" stroke-dasharray="6 49.8" stroke-dashoffset="41.9"/>
<line x1="890.4" y1="1542.41" x2="939.4" y2="1543.3" stroke="#0067E1" stroke-width="8.4" stroke-linecap="round" stroke-dasharray="6 49.8" stroke-dashoffset="41.9"/>
<path d="M351.4 1334.87V1353.87M342.6 1334.87h17.6M342.6 1353.87h17.6" stroke="#0067E1" stroke-width="4" stroke-linecap="round" fill="none"/>
<path d="M400.4 1270.61V1305.81M391.6 1270.61h17.6M391.6 1305.81h17.6" stroke="#0067E1" stroke-width="4" stroke-linecap="round" fill="none"/>
<path d="M449.4 1161.33V1176.13M440.6 1161.33h17.6M440.6 1176.13h17.6" stroke="#0067E1" stroke-width="4" stroke-linecap="round" fill="none"/>
<path d="M498.4 1056.27V1081.07M489.6 1056.27h17.6M489.6 1081.07h17.6" stroke="#0067E1" stroke-width="4" stroke-linecap="round" fill="none"/>
<path d="M547.4 1139.32V1157.52M538.6 1139.32h17.6M538.6 1157.52h17.6" stroke="#0067E1" stroke-width="4" stroke-linecap="round" fill="none"/>
<path d="M596.4 1219.98V1232.78M587.6 1219.98h17.6M587.6 1232.78h17.6" stroke="#0067E1" stroke-width="4" stroke-linecap="round" fill="none"/>
<path d="M645.4 1474.29V1479.69M636.6 1474.29h17.6M636.6 1479.69h17.6" stroke="#0067E1" stroke-width="4" stroke-linecap="round" fill="none"/>
<polygon points="351.4,1330.67 363.2,1351.27 339.6,1351.27" fill="#0067E1"/>
<polygon points="400.4,1274.51 412.2,1295.11 388.6,1295.11" fill="#0067E1"/>
<polygon points="449.4,1155.03 461.2,1175.63 437.6,1175.63" fill="#0067E1"/>
<polygon points="498.4,1054.97 510.2,1075.57 486.6,1075.57" fill="#0067E1"/>
<polygon points="547.4,1134.72 559.2,1155.32 535.6,1155.32" fill="#0067E1"/>
<polygon points="596.4,1212.68 608.2,1233.28 584.6,1233.28" fill="#0067E1"/>
<polygon points="645.4,1463.29 657.2,1483.89 633.6,1483.89" fill="#0067E1"/>
<polygon points="694.4,1525.12 706.2,1545.72 682.6,1545.72" fill="#0067E1"/>
<polygon points="743.4,1527.21 755.2,1547.81 731.6,1547.81" fill="#0067E1"/>
<polygon points="792.4,1524.82 804.2,1545.42 780.6,1545.42" fill="#0067E1"/>
<polygon points="841.4,1529.6 853.2,1550.2 829.6,1550.2" fill="#0067E1"/>
<polygon points="890.4,1528.71 902.2,1549.31 878.6,1549.31" fill="#0067E1"/>
<polygon points="939.4,1529.6 951.2,1550.2 927.6,1550.2" fill="#0067E1"/>
<polyline points="1037.4,1484.76 1086.4,1512.54 1135.4,1523.59 1184.4,1537.63 1233.4,1539.12 1282.4,1540.02 1331.4,1540.61 1380.4,1540.61 1429.4,1542.41 1478.4,1542.41 1527.4,1543.3 1576.4,1543.3 1625.4,1543.3" fill="none" stroke="#00B068" stroke-width="8.4" stroke-linejoin="round" stroke-linecap="round"/>
<path d="M1037.4 1478.16V1491.36M1028.6 1478.16h17.6M1028.6 1491.36h17.6" stroke="#00B068" stroke-width="4" stroke-linecap="round" fill="none"/>
<polygon points="1037.4,1498.46 1049.2,1477.86 1025.6,1477.86" fill="#00B068"/>
<polygon points="1086.4,1526.24 1098.2,1505.64 1074.6,1505.64" fill="#00B068"/>
<polygon points="1135.4,1537.29 1147.2,1516.69 1123.6,1516.69" fill="#00B068"/>
<polygon points="1184.4,1551.33 1196.2,1530.73 1172.6,1530.73" fill="#00B068"/>
<polygon points="1233.4,1552.82 1245.2,1532.22 1221.6,1532.22" fill="#00B068"/>
<polygon points="1282.4,1553.72 1294.2,1533.12 1270.6,1533.12" fill="#00B068"/>
<polygon points="1331.4,1554.31 1343.2,1533.71 1319.6,1533.71" fill="#00B068"/>
<polygon points="1380.4,1554.31 1392.2,1533.71 1368.6,1533.71" fill="#00B068"/>
<polygon points="1429.4,1556.11 1441.2,1535.51 1417.6,1535.51" fill="#00B068"/>
<polygon points="1478.4,1556.11 1490.2,1535.51 1466.6,1535.51" fill="#00B068"/>
<polygon points="1527.4,1557 1539.2,1536.4 1515.6,1536.4" fill="#00B068"/>
<polygon points="1576.4,1557 1588.2,1536.4 1564.6,1536.4" fill="#00B068"/>
<polygon points="1625.4,1557 1637.2,1536.4 1613.6,1536.4" fill="#00B068"/>
<line x1="1037.4" y1="1371.85" x2="1086.4" y2="1292.69" stroke="#CD75E8" stroke-width="8.4" stroke-linecap="round" stroke-dasharray="28.8 35.5 4 32.6 4 37.6" stroke-dashoffset="126.8"/>
<line x1="1086.4" y1="1292.69" x2="1135.4" y2="1166.34" stroke="#CD75E8" stroke-width="8.4" stroke-linecap="round" stroke-dasharray="28.8 35.5 4 32.6 4 37.6" stroke-dashoffset="126.8"/>
<line x1="1135.4" y1="1166.34" x2="1184.4" y2="1114.67" stroke="#CD75E8" stroke-width="8.4" stroke-linecap="round" stroke-dasharray="28.8 35.5 4 32.6 4 37.6" stroke-dashoffset="126.8"/>
<line x1="1184.4" y1="1114.67" x2="1233.4" y2="1209.95" stroke="#CD75E8" stroke-width="8.4" stroke-linecap="round" stroke-dasharray="28.8 35.5 4 32.6 4 37.6" stroke-dashoffset="126.8"/>
<line x1="1233.4" y1="1209.95" x2="1282.4" y2="1300.76" stroke="#CD75E8" stroke-width="8.4" stroke-linecap="round" stroke-dasharray="28.8 35.5 4 32.6 4 37.6" stroke-dashoffset="126.8"/>
<line x1="1282.4" y1="1300.76" x2="1331.4" y2="1482.37" stroke="#CD75E8" stroke-width="8.4" stroke-linecap="round" stroke-dasharray="28.8 35.5 4 32.6 4 37.6" stroke-dashoffset="126.8"/>
<line x1="1331.4" y1="1482.37" x2="1380.4" y2="1542.7" stroke="#CD75E8" stroke-width="8.4" stroke-linecap="round" stroke-dasharray="28.8 35.5 4 32.6 4 37.6" stroke-dashoffset="126.8"/>
<line x1="1380.4" y1="1542.7" x2="1429.4" y2="1542.7" stroke="#CD75E8" stroke-width="8.4" stroke-linecap="round" stroke-dasharray="28.8 35.5 4 32.6 4 37.6" stroke-dashoffset="126.8"/>
<line x1="1429.4" y1="1542.7" x2="1478.4" y2="1542.7" stroke="#CD75E8" stroke-width="8.4" stroke-linecap="round" stroke-dasharray="28.8 35.5 4 32.6 4 37.6" stroke-dashoffset="126.8"/>
<line x1="1478.4" y1="1542.7" x2="1527.4" y2="1542.7" stroke="#CD75E8" stroke-width="8.4" stroke-linecap="round" stroke-dasharray="28.8 35.5 4 32.6 4 37.6" stroke-dashoffset="126.8"/>
<line x1="1527.4" y1="1542.7" x2="1576.4" y2="1542.7" stroke="#CD75E8" stroke-width="8.4" stroke-linecap="round" stroke-dasharray="28.8 35.5 4 32.6 4 37.6" stroke-dashoffset="126.8"/>
<line x1="1576.4" y1="1542.7" x2="1625.4" y2="1542.7" stroke="#CD75E8" stroke-width="8.4" stroke-linecap="round" stroke-dasharray="28.8 35.5 4 32.6 4 37.6" stroke-dashoffset="126.8"/>
<path d="M1037.4 1362.85V1380.85M1028.6 1362.85h17.6M1028.6 1380.85h17.6" stroke="#CD75E8" stroke-width="4" stroke-linecap="round" fill="none"/>
<path d="M1086.4 1280.19V1305.19M1077.6 1280.19h17.6M1077.6 1305.19h17.6" stroke="#CD75E8" stroke-width="4" stroke-linecap="round" fill="none"/>
<path d="M1135.4 1146.04V1186.64M1126.6 1146.04h17.6M1126.6 1186.64h17.6" stroke="#CD75E8" stroke-width="4" stroke-linecap="round" fill="none"/>
<path d="M1184.4 1111.67V1117.67M1175.6 1111.67h17.6M1175.6 1117.67h17.6" stroke="#CD75E8" stroke-width="4" stroke-linecap="round" fill="none"/>
<path d="M1233.4 1205.25V1214.65M1224.6 1205.25h17.6M1224.6 1214.65h17.6" stroke="#CD75E8" stroke-width="4" stroke-linecap="round" fill="none"/>
<path d="M1282.4 1292.16V1309.36M1273.6 1292.16h17.6M1273.6 1309.36h17.6" stroke="#CD75E8" stroke-width="4" stroke-linecap="round" fill="none"/>
<polygon points="1037.4,1360.25 1049,1371.85 1037.4,1383.45 1025.8,1371.85" fill="#CD75E8"/>
<polygon points="1086.4,1281.09 1098,1292.69 1086.4,1304.29 1074.8,1292.69" fill="#CD75E8"/>
<polygon points="1135.4,1154.74 1147,1166.34 1135.4,1177.94 1123.8,1166.34" fill="#CD75E8"/>
<polygon points="1184.4,1103.07 1196,1114.67 1184.4,1126.27 1172.8,1114.67" fill="#CD75E8"/>
<polygon points="1233.4,1198.35 1245,1209.95 1233.4,1221.55 1221.8,1209.95" fill="#CD75E8"/>
<polygon points="1282.4,1289.16 1294,1300.76 1282.4,1312.36 1270.8,1300.76" fill="#CD75E8"/>
<polygon points="1331.4,1470.77 1343,1482.37 1331.4,1493.97 1319.8,1482.37" fill="#CD75E8"/>
<polygon points="1380.4,1531.1 1392,1542.7 1380.4,1554.3 1368.8,1542.7" fill="#CD75E8"/>
<polygon points="1429.4,1531.1 1441,1542.7 1429.4,1554.3 1417.8,1542.7" fill="#CD75E8"/>
<polygon points="1478.4,1531.1 1490,1542.7 1478.4,1554.3 1466.8,1542.7" fill="#CD75E8"/>
<polygon points="1527.4,1531.1 1539,1542.7 1527.4,1554.3 1515.8,1542.7" fill="#CD75E8"/>
<polygon points="1576.4,1531.1 1588,1542.7 1576.4,1554.3 1564.8,1542.7" fill="#CD75E8"/>
<polygon points="1625.4,1531.1 1637,1542.7 1625.4,1554.3 1613.8,1542.7" fill="#CD75E8"/>
<line x1="1037.4" y1="1338.69" x2="1086.4" y2="1273.87" stroke="#E49C00" stroke-width="8.4" stroke-linecap="round" stroke-dasharray="12.6 29.4" stroke-dashoffset="27.3"/>
<line x1="1086.4" y1="1273.87" x2="1135.4" y2="1114.07" stroke="#E49C00" stroke-width="8.4" stroke-linecap="round" stroke-dasharray="12.6 29.4" stroke-dashoffset="27.3"/>
<line x1="1135.4" y1="1114.07" x2="1184.4" y2="1053.13" stroke="#E49C00" stroke-width="8.4" stroke-linecap="round" stroke-dasharray="12.6 29.4" stroke-dashoffset="27.3"/>
<line x1="1184.4" y1="1053.13" x2="1233.4" y2="1168.73" stroke="#E49C00" stroke-width="8.4" stroke-linecap="round" stroke-dasharray="12.6 29.4" stroke-dashoffset="27.3"/>
<line x1="1233.4" y1="1168.73" x2="1282.4" y2="1232.06" stroke="#E49C00" stroke-width="8.4" stroke-linecap="round" stroke-dasharray="12.6 29.4" stroke-dashoffset="27.3"/>
<line x1="1282.4" y1="1232.06" x2="1331.4" y2="1471.91" stroke="#E49C00" stroke-width="8.4" stroke-linecap="round" stroke-dasharray="12.6 29.4" stroke-dashoffset="27.3"/>
<line x1="1331.4" y1="1471.91" x2="1380.4" y2="1540.02" stroke="#E49C00" stroke-width="8.4" stroke-linecap="round" stroke-dasharray="12.6 29.4" stroke-dashoffset="27.3"/>
<line x1="1380.4" y1="1540.02" x2="1429.4" y2="1540.61" stroke="#E49C00" stroke-width="8.4" stroke-linecap="round" stroke-dasharray="12.6 29.4" stroke-dashoffset="27.3"/>
<line x1="1429.4" y1="1540.61" x2="1478.4" y2="1539.12" stroke="#E49C00" stroke-width="8.4" stroke-linecap="round" stroke-dasharray="12.6 29.4" stroke-dashoffset="27.3"/>
<line x1="1478.4" y1="1539.12" x2="1527.4" y2="1542.41" stroke="#E49C00" stroke-width="8.4" stroke-linecap="round" stroke-dasharray="12.6 29.4" stroke-dashoffset="27.3"/>
<line x1="1527.4" y1="1542.41" x2="1576.4" y2="1542.41" stroke="#E49C00" stroke-width="8.4" stroke-linecap="round" stroke-dasharray="12.6 29.4" stroke-dashoffset="27.3"/>
<line x1="1576.4" y1="1542.41" x2="1625.4" y2="1543.3" stroke="#E49C00" stroke-width="8.4" stroke-linecap="round" stroke-dasharray="12.6 29.4" stroke-dashoffset="27.3"/>
<path d="M1037.4 1326.79V1350.59M1028.6 1326.79h17.6M1028.6 1350.59h17.6" stroke="#E49C00" stroke-width="4" stroke-linecap="round" fill="none"/>
<path d="M1135.4 1102.37V1125.77M1126.6 1102.37h17.6M1126.6 1125.77h17.6" stroke="#E49C00" stroke-width="4" stroke-linecap="round" fill="none"/>
<path d="M1184.4 1046.13V1060.13M1175.6 1046.13h17.6M1175.6 1060.13h17.6" stroke="#E49C00" stroke-width="4" stroke-linecap="round" fill="none"/>
<path d="M1233.4 1135.93V1201.53M1224.6 1135.93h17.6M1224.6 1201.53h17.6" stroke="#E49C00" stroke-width="4" stroke-linecap="round" fill="none"/>
<path d="M1282.4 1226.76V1237.36M1273.6 1226.76h17.6M1273.6 1237.36h17.6" stroke="#E49C00" stroke-width="4" stroke-linecap="round" fill="none"/>
<polygon points="1023.8,1338.69 1044.2,1327.89 1044.2,1349.49" fill="#E49C00"/>
<polygon points="1072.8,1273.87 1093.2,1263.07 1093.2,1284.67" fill="#E49C00"/>
<polygon points="1121.8,1114.07 1142.2,1103.27 1142.2,1124.87" fill="#E49C00"/>
<polygon points="1170.8,1053.13 1191.2,1042.33 1191.2,1063.93" fill="#E49C00"/>
<polygon points="1219.8,1168.73 1240.2,1157.93 1240.2,1179.53" fill="#E49C00"/>
<polygon points="1268.8,1232.06 1289.2,1221.26 1289.2,1242.86" fill="#E49C00"/>
<polygon points="1317.8,1471.91 1338.2,1461.11 1338.2,1482.71" fill="#E49C00"/>
<polygon points="1366.8,1540.02 1387.2,1529.22 1387.2,1550.82" fill="#E49C00"/>
<polygon points="1415.8,1540.61 1436.2,1529.81 1436.2,1551.41" fill="#E49C00"/>
<polygon points="1464.8,1539.12 1485.2,1528.32 1485.2,1549.92" fill="#E49C00"/>
<polygon points="1513.8,1542.41 1534.2,1531.61 1534.2,1553.21" fill="#E49C00"/>
<polygon points="1562.8,1542.41 1583.2,1531.61 1583.2,1553.21" fill="#E49C00"/>
<polygon points="1611.8,1543.3 1632.2,1532.5 1632.2,1554.1" fill="#E49C00"/>
<line x1="1723.4" y1="1487.44" x2="1772.4" y2="1511.04" stroke="#00CECF" stroke-width="8.4" stroke-linecap="round" stroke-dasharray="0.6 18.4" stroke-dashoffset="4.7"/>
<line x1="1772.4" y1="1511.04" x2="1821.4" y2="1522.69" stroke="#00CECF" stroke-width="8.4" stroke-linecap="round" stroke-dasharray="0.6 18.4" stroke-dashoffset="4.7"/>
<line x1="1821.4" y1="1522.69" x2="1870.4" y2="1537.63" stroke="#00CECF" stroke-width="8.4" stroke-linecap="round" stroke-dasharray="0.6 18.4" stroke-dashoffset="4.7"/>
<line x1="1870.4" y1="1537.63" x2="1919.4" y2="1539.12" stroke="#00CECF" stroke-width="8.4" stroke-linecap="round" stroke-dasharray="0.6 18.4" stroke-dashoffset="4.7"/>
<line x1="1919.4" y1="1539.12" x2="1968.4" y2="1540.31" stroke="#00CECF" stroke-width="8.4" stroke-linecap="round" stroke-dasharray="0.6 18.4" stroke-dashoffset="4.7"/>
<line x1="1968.4" y1="1540.31" x2="2017.4" y2="1541.81" stroke="#00CECF" stroke-width="8.4" stroke-linecap="round" stroke-dasharray="0.6 18.4" stroke-dashoffset="4.7"/>
<line x1="2017.4" y1="1541.81" x2="2066.4" y2="1541.81" stroke="#00CECF" stroke-width="8.4" stroke-linecap="round" stroke-dasharray="0.6 18.4" stroke-dashoffset="4.7"/>
<line x1="2066.4" y1="1541.81" x2="2115.4" y2="1541.81" stroke="#00CECF" stroke-width="8.4" stroke-linecap="round" stroke-dasharray="0.6 18.4" stroke-dashoffset="4.7"/>
<line x1="2115.4" y1="1541.81" x2="2164.4" y2="1541.81" stroke="#00CECF" stroke-width="8.4" stroke-linecap="round" stroke-dasharray="0.6 18.4" stroke-dashoffset="4.7"/>
<line x1="2164.4" y1="1541.81" x2="2213.4" y2="1542.41" stroke="#00CECF" stroke-width="8.4" stroke-linecap="round" stroke-dasharray="0.6 18.4" stroke-dashoffset="4.7"/>
<path d="M1723.4 1483.44V1491.44M1714.6 1483.44h17.6M1714.6 1491.44h17.6" stroke="#00CECF" stroke-width="4" stroke-linecap="round" fill="none"/>
<path d="M1821.4 1518.69V1526.69M1812.6 1518.69h17.6M1812.6 1526.69h17.6" stroke="#00CECF" stroke-width="4" stroke-linecap="round" fill="none"/>
<polygon points="1737,1487.44 1716.6,1476.64 1716.6,1498.24" fill="#00CECF"/>
<polygon points="1786,1511.04 1765.6,1500.24 1765.6,1521.84" fill="#00CECF"/>
<polygon points="1835,1522.69 1814.6,1511.89 1814.6,1533.49" fill="#00CECF"/>
<polygon points="1884,1537.63 1863.6,1526.83 1863.6,1548.43" fill="#00CECF"/>
<polygon points="1933,1539.12 1912.6,1528.32 1912.6,1549.92" fill="#00CECF"/>
<polygon points="1982,1540.31 1961.6,1529.51 1961.6,1551.11" fill="#00CECF"/>
<polygon points="2031,1541.81 2010.6,1531.01 2010.6,1552.61" fill="#00CECF"/>
<polygon points="2080,1541.81 2059.6,1531.01 2059.6,1552.61" fill="#00CECF"/>
<polygon points="2129,1541.81 2108.6,1531.01 2108.6,1552.61" fill="#00CECF"/>
<polygon points="2178,1541.81 2157.6,1531.01 2157.6,1552.61" fill="#00CECF"/>
<polygon points="2227,1542.41 2206.6,1531.61 2206.6,1553.21" fill="#00CECF"/>
<line x1="1723.4" y1="1370.65" x2="1772.4" y2="1296.58" stroke="#8C484C" stroke-width="8.4" stroke-linecap="round" stroke-dasharray="24.4 25.05 0.5 24.65" stroke-dashoffset="59"/>
<line x1="1772.4" y1="1296.58" x2="1821.4" y2="1178.29" stroke="#8C484C" stroke-width="8.4" stroke-linecap="round" stroke-dasharray="24.4 25.05 0.5 24.65" stroke-dashoffset="59"/>
<line x1="1821.4" y1="1178.29" x2="1870.4" y2="1123.63" stroke="#8C484C" stroke-width="8.4" stroke-linecap="round" stroke-dasharray="24.4 25.05 0.5 24.65" stroke-dashoffset="59"/>
<line x1="1870.4" y1="1123.63" x2="1919.4" y2="1188.74" stroke="#8C484C" stroke-width="8.4" stroke-linecap="round" stroke-dasharray="24.4 25.05 0.5 24.65" stroke-dashoffset="59"/>
<line x1="1919.4" y1="1188.74" x2="1968.4" y2="1309.12" stroke="#8C484C" stroke-width="8.4" stroke-linecap="round" stroke-dasharray="24.4 25.05 0.5 24.65" stroke-dashoffset="59"/>
<line x1="1968.4" y1="1309.12" x2="2017.4" y2="1480.28" stroke="#8C484C" stroke-width="8.4" stroke-linecap="round" stroke-dasharray="24.4 25.05 0.5 24.65" stroke-dashoffset="59"/>
<line x1="2017.4" y1="1480.28" x2="2066.4" y2="1541.81" stroke="#8C484C" stroke-width="8.4" stroke-linecap="round" stroke-dasharray="24.4 25.05 0.5 24.65" stroke-dashoffset="59"/>
<line x1="2066.4" y1="1541.81" x2="2115.4" y2="1541.81" stroke="#8C484C" stroke-width="8.4" stroke-linecap="round" stroke-dasharray="24.4 25.05 0.5 24.65" stroke-dashoffset="59"/>
<line x1="2115.4" y1="1541.81" x2="2164.4" y2="1541.81" stroke="#8C484C" stroke-width="8.4" stroke-linecap="round" stroke-dasharray="24.4 25.05 0.5 24.65" stroke-dashoffset="59"/>
<line x1="2164.4" y1="1541.81" x2="2213.4" y2="1543.6" stroke="#8C484C" stroke-width="8.4" stroke-linecap="round" stroke-dasharray="24.4 25.05 0.5 24.65" stroke-dashoffset="59"/>
<path d="M1723.4 1339.15V1402.15M1714.6 1339.15h17.6M1714.6 1402.15h17.6" stroke="#8C484C" stroke-width="4" stroke-linecap="round" fill="none"/>
<path d="M1772.4 1276.88V1316.28M1763.6 1276.88h17.6M1763.6 1316.28h17.6" stroke="#8C484C" stroke-width="4" stroke-linecap="round" fill="none"/>
<path d="M1821.4 1173.29V1183.29M1812.6 1173.29h17.6M1812.6 1183.29h17.6" stroke="#8C484C" stroke-width="4" stroke-linecap="round" fill="none"/>
<path d="M1870.4 1100.03V1147.23M1861.6 1100.03h17.6M1861.6 1147.23h17.6" stroke="#8C484C" stroke-width="4" stroke-linecap="round" fill="none"/>
<path d="M1919.4 1175.54V1201.94M1910.6 1175.54h17.6M1910.6 1201.94h17.6" stroke="#8C484C" stroke-width="4" stroke-linecap="round" fill="none"/>
<path d="M1968.4 1293.42V1324.82M1959.6 1293.42h17.6M1959.6 1324.82h17.6" stroke="#8C484C" stroke-width="4" stroke-linecap="round" fill="none"/>
<path d="M2017.4 1477.28V1483.28M2008.6 1477.28h17.6M2008.6 1483.28h17.6" stroke="#8C484C" stroke-width="4" stroke-linecap="round" fill="none"/>
<polygon points="1723.4,1360.35 1732.7,1365.35 1732.7,1375.95 1723.4,1380.95 1714.1,1375.95 1714.1,1365.35" fill="#8C484C"/>
<polygon points="1772.4,1286.28 1781.7,1291.28 1781.7,1301.88 1772.4,1306.88 1763.1,1301.88 1763.1,1291.28" fill="#8C484C"/>
<polygon points="1821.4,1167.99 1830.7,1172.99 1830.7,1183.59 1821.4,1188.59 1812.1,1183.59 1812.1,1172.99" fill="#8C484C"/>
<polygon points="1870.4,1113.33 1879.7,1118.33 1879.7,1128.93 1870.4,1133.93 1861.1,1128.93 1861.1,1118.33" fill="#8C484C"/>
<polygon points="1919.4,1178.44 1928.7,1183.44 1928.7,1194.04 1919.4,1199.04 1910.1,1194.04 1910.1,1183.44" fill="#8C484C"/>
<polygon points="1968.4,1298.82 1977.7,1303.82 1977.7,1314.42 1968.4,1319.42 1959.1,1314.42 1959.1,1303.82" fill="#8C484C"/>
<polygon points="2017.4,1469.98 2026.7,1474.98 2026.7,1485.58 2017.4,1490.58 2008.1,1485.58 2008.1,1474.98" fill="#8C484C"/>
<polygon points="2066.4,1531.51 2075.7,1536.51 2075.7,1547.11 2066.4,1552.11 2057.1,1547.11 2057.1,1536.51" fill="#8C484C"/>
<polygon points="2115.4,1531.51 2124.7,1536.51 2124.7,1547.11 2115.4,1552.11 2106.1,1547.11 2106.1,1536.51" fill="#8C484C"/>
<polygon points="2164.4,1531.51 2173.7,1536.51 2173.7,1547.11 2164.4,1552.11 2155.1,1547.11 2155.1,1536.51" fill="#8C484C"/>
<polygon points="2213.4,1533.3 2222.7,1538.3 2222.7,1548.9 2213.4,1553.9 2204.1,1548.9 2204.1,1538.3" fill="#8C484C"/>
<polyline points="1723.4,1341.98 1772.4,1279.85 1821.4,1104.81 1870.4,1037.3 1919.4,1159.17 1968.4,1228.47 2017.4,1469.82 2066.4,1539.12 2115.4,1540.31 2164.4,1538.52 2213.4,1542.41" fill="none" stroke="#8C8C00" stroke-width="8.4" stroke-linejoin="round" stroke-linecap="round"/>
<path d="M1723.4 1334.68V1349.28M1714.6 1334.68h17.6M1714.6 1349.28h17.6" stroke="#8C8C00" stroke-width="4" stroke-linecap="round" fill="none"/>
<path d="M1772.4 1270.85V1288.85M1763.6 1270.85h17.6M1763.6 1288.85h17.6" stroke="#8C8C00" stroke-width="4" stroke-linecap="round" fill="none"/>
<path d="M1821.4 1095.31V1114.31M1812.6 1095.31h17.6M1812.6 1114.31h17.6" stroke="#8C8C00" stroke-width="4" stroke-linecap="round" fill="none"/>
<path d="M1870.4 1031.4V1043.2M1861.6 1031.4h17.6M1861.6 1043.2h17.6" stroke="#8C8C00" stroke-width="4" stroke-linecap="round" fill="none"/>
<path d="M1919.4 1149.37V1168.97M1910.6 1149.37h17.6M1910.6 1168.97h17.6" stroke="#8C8C00" stroke-width="4" stroke-linecap="round" fill="none"/>
<path d="M1968.4 1223.47V1233.47M1959.6 1223.47h17.6M1959.6 1233.47h17.6" stroke="#8C8C00" stroke-width="4" stroke-linecap="round" fill="none"/>
<path d="M2017.4 1466.82V1472.82M2008.6 1466.82h17.6M2008.6 1472.82h17.6" stroke="#8C8C00" stroke-width="4" stroke-linecap="round" fill="none"/>
<polygon points="1723.4,1331.98 1726.1,1339.26 1733.86,1339.58 1727.77,1344.4 1729.87,1351.88 1723.4,1347.58 1716.93,1351.88 1719.03,1344.4 1712.94,1339.58 1720.7,1339.26" fill="#8C8C00"/>
<polygon points="1772.4,1269.85 1775.1,1277.13 1782.86,1277.45 1776.77,1282.27 1778.87,1289.75 1772.4,1285.45 1765.93,1289.75 1768.03,1282.27 1761.94,1277.45 1769.7,1277.13" fill="#8C8C00"/>
<polygon points="1821.4,1094.81 1824.1,1102.09 1831.86,1102.41 1825.77,1107.23 1827.87,1114.71 1821.4,1110.41 1814.93,1114.71 1817.03,1107.23 1810.94,1102.41 1818.7,1102.09" fill="#8C8C00"/>
<polygon points="1870.4,1027.3 1873.1,1034.58 1880.86,1034.9 1874.77,1039.72 1876.87,1047.2 1870.4,1042.9 1863.93,1047.2 1866.03,1039.72 1859.94,1034.9 1867.7,1034.58" fill="#8C8C00"/>
<polygon points="1919.4,1149.17 1922.1,1156.45 1929.86,1156.77 1923.77,1161.59 1925.87,1169.07 1919.4,1164.77 1912.93,1169.07 1915.03,1161.59 1908.94,1156.77 1916.7,1156.45" fill="#8C8C00"/>
<polygon points="1968.4,1218.47 1971.1,1225.75 1978.86,1226.07 1972.77,1230.89 1974.87,1238.37 1968.4,1234.07 1961.93,1238.37 1964.03,1230.89 1957.94,1226.07 1965.7,1225.75" fill="#8C8C00"/>
<polygon points="2017.4,1459.82 2020.1,1467.1 2027.86,1467.42 2021.77,1472.24 2023.87,1479.72 2017.4,1475.42 2010.93,1479.72 2013.03,1472.24 2006.94,1467.42 2014.7,1467.1" fill="#8C8C00"/>
<polygon points="2066.4,1529.12 2069.1,1536.4 2076.86,1536.72 2070.77,1541.54 2072.87,1549.02 2066.4,1544.72 2059.93,1549.02 2062.03,1541.54 2055.94,1536.72 2063.7,1536.4" fill="#8C8C00"/>
<polygon points="2115.4,1530.31 2118.1,1537.59 2125.86,1537.92 2119.77,1542.74 2121.87,1550.21 2115.4,1545.91 2108.93,1550.21 2111.03,1542.74 2104.94,1537.92 2112.7,1537.59" fill="#8C8C00"/>
<polygon points="2164.4,1528.52 2167.1,1535.8 2174.86,1536.12 2168.77,1540.94 2170.87,1548.42 2164.4,1544.12 2157.93,1548.42 2160.03,1540.94 2153.94,1536.12 2161.7,1535.8" fill="#8C8C00"/>
<polygon points="2213.4,1532.41 2216.1,1539.68 2223.86,1540.01 2217.77,1544.83 2219.87,1552.3 2213.4,1548.01 2206.93,1552.3 2209.03,1544.83 2202.94,1540.01 2210.7,1539.68" fill="#8C8C00"/>
<line x1="2198.2" y1="57.3" x2="2287.8" y2="57.3" stroke="#4F4F4F" stroke-width="8.4" stroke-linecap="round"/>
<rect x="2234.3" y="48.3" width="18" height="18" fill="#4F4F4F"/>
<text x="2298" y="70.6" font-size="40">S0N0</text>
<line x1="2198.2" y1="107.6" x2="2287.8" y2="107.6" stroke="#FE4141" stroke-width="8.4" stroke-linecap="round"/>
<circle cx="2243.3" cy="107.6" r="9.7" fill="#FE4141"/>
<text x="2298" y="120.9" font-size="40">S0N1</text>
<line x1="2198.2" y1="157.9" x2="2203.8" y2="157.9" stroke="#0067E1" stroke-width="8.4" stroke-linecap="round"/>
<line x1="2255.8" y1="157.9" x2="2258" y2="157.9" stroke="#0067E1" stroke-width="8.4" stroke-linecap="round"/>
<polygon points="2243.3,144.2 2255.1,164.8 2231.5,164.8" fill="#0067E1"/>
<text x="2298" y="171.2" font-size="40">S0N2</text>
<line x1="2198.2" y1="208.2" x2="2287.8" y2="208.2" stroke="#00B068" stroke-width="8.4" stroke-linecap="round"/>
<polygon points="2243.3,221.9 2255.1,201.3 2231.5,201.3" fill="#00B068"/>
<text x="2298" y="221.5" font-size="40">S1N0</text>
<line x1="2198.2" y1="258.5" x2="2287.8" y2="258.5" stroke="#CD75E8" stroke-width="8.4" stroke-linecap="round"/>
<polygon points="2243.3,246.9 2254.9,258.5 2243.3,270.1 2231.7,258.5" fill="#CD75E8"/>
<text x="2298" y="271.8" font-size="40">S1N1</text>
<line x1="2198.2" y1="308.8" x2="2287.8" y2="308.8" stroke="#E49C00" stroke-width="8.4" stroke-linecap="round"/>
<polygon points="2229.7,308.8 2250.1,298 2250.1,319.6" fill="#E49C00"/>
<text x="2298" y="322.1" font-size="40">S1N2</text>
<line x1="2198.2" y1="359.1" x2="2213.2" y2="359.1" stroke="#00CECF" stroke-width="8.4" stroke-linecap="round"/>
<line x1="2254.8" y1="359.1" x2="2267.3" y2="359.1" stroke="#00CECF" stroke-width="8.4" stroke-linecap="round"/>
<polygon points="2256.9,359.1 2236.5,348.3 2236.5,369.9" fill="#00CECF"/>
<text x="2298" y="372.4" font-size="40">S2N0</text>
<circle cx="2198.5" cy="409.4" r="4.5" fill="#8C484C"/>
<circle cx="2217.4" cy="409.4" r="4.5" fill="#8C484C"/>
<circle cx="2253.9" cy="409.4" r="4.5" fill="#8C484C"/>
<circle cx="2271.5" cy="409.4" r="4.5" fill="#8C484C"/>
<polygon points="2243.3,399.1 2252.6,404.1 2252.6,414.7 2243.3,419.7 2234,414.7 2234,404.1" fill="#8C484C"/>
<text x="2298" y="422.7" font-size="40">S2N1</text>
<line x1="2198.2" y1="459.7" x2="2225.7" y2="459.7" stroke="#8C8C00" stroke-width="8.4" stroke-linecap="round"/>
<line x1="2254" y1="459.7" x2="2280" y2="459.7" stroke="#8C8C00" stroke-width="8.4" stroke-linecap="round"/>
<polygon points="2243.3,449.7 2246,456.98 2253.76,457.3 2247.67,462.12 2249.77,469.6 2243.3,465.3 2236.83,469.6 2238.93,462.12 2232.84,457.3 2240.6,456.98" fill="#8C8C00"/>
<text x="2298" y="473" font-size="40">S2N2</text>
<text x="423" y="1738.3" font-size="56.7">no straw return</text>
<text x="1108.7" y="1737.9" font-size="56.7">half straw return</text>
<text x="1782.4" y="1741" font-size="56.5">full straw return</text>
<text x="1027" y="1859.2" font-size="56.7">Days after fertilization</text>
<text transform="translate(94.5 1365) rotate(-90)" font-size="57">Field ammonia emission flux<tspan font-family="'Noto Serif CJK SC','Noto Sans CJK SC',serif" font-size="49" dy="-3">（</tspan><tspan dy="3" dx="5.6">kg·hm</tspan><tspan dy="-23">-2</tspan><tspan dy="23">·d</tspan><tspan dy="-23" dx="3">-1</tspan><tspan font-family="'Noto Serif CJK SC','Noto Sans CJK SC',serif" font-size="49" dy="20" dx="3.2">）</tspan></text>
</svg></body></html>
